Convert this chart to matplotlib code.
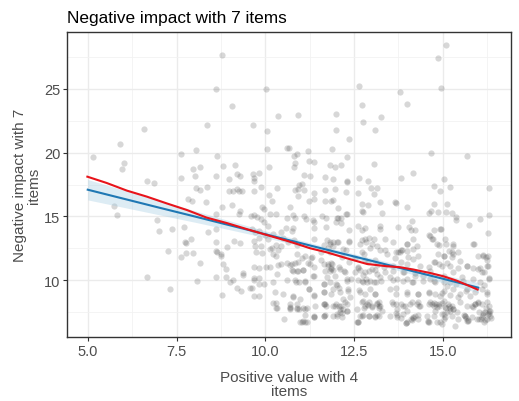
import matplotlib
matplotlib.use("Agg")
import matplotlib.pyplot as plt
from matplotlib.ticker import MultipleLocator

plt.rcParams['font.family'] = ['Liberation Sans', 'DejaVu Sans']

# scatter points (positive value, negative impact)
pos_value = [
    # left / sparse part
    5.16, 5.92, 6.03, 5.97, 6.59, 6.68, 6.88, 5.75, 5.83, 6.96, 7.02, 6.68, 7.27, 7.33, 7.38,
    7.62, 7.64, 7.64, 7.75, 7.77, 7.71, 7.78, 7.83, 7.95, 7.92, 7.97, 8.06, 7.97, 8.03, 8.17,
    8.06, 8.17, 8.09, 8.17, 8.37, 8.37, 8.34, 8.40, 8.60, 8.60, 8.65, 8.62, 8.62, 8.62, 8.62,
    8.65, 8.76, 8.76, 8.62, 8.79, 8.79, 8.82, 8.82, 8.88, 8.90, 8.79, 8.93, 8.99, 8.99, 9.05,
    9.05, 9.02, 9.10, 9.16, 9.19, 9.10, 9.21, 9.13, 9.19, 9.30, 9.27, 9.35, 9.30, 9.27, 9.30,
    9.36, 9.36, 9.33, 9.58, 9.66, 9.66, 9.69, 9.69, 9.69, 9.83, 9.89, 9.61, 9.69, 9.78, 9.89,
    9.64, 9.72, 9.83, 9.67, 9.83, 9.72, 9.89, 9.75, 9.92, 9.67, 9.81, 9.67, 9.69, 9.83, 9.69,
    9.81, 9.64, 9.83, 9.97, 10.03, 10.06, 10.06, 10.10, 10.10, 10.18, 10.12, 9.95, 9.92, 9.95,
    10.09, 10.00, 10.09, 10.23, 10.20, 10.12, 10.23, 10.14, 10.03, 10.23, 10.26, 10.23, 10.31,
    10.37, 10.34, 10.30, 10.35, 10.33, 10.30, 10.36, 10.30,
    # upper right part
    15.09, 14.85, 14.96, 12.65, 12.71, 13.78, 14.00, 12.76, 13.27, 13.10, 11.98, 10.93, 12.00,
    12.37, 10.60, 10.68, 11.20, 11.89, 12.31, 14.68, 15.67, 10.82, 10.88, 11.24, 11.38, 11.81,
    11.95, 12.14, 10.82, 10.85, 13.05, 14.17, 12.65, 13.81, 15.02, 11.10, 11.27, 11.69, 11.92,
    12.29, 12.29, 12.90, 10.96, 11.02, 14.76, 15.21, 16.31, 14.93, 11.10, 10.85, 10.91, 11.69,
    11.95, 12.26, 12.62, 12.99, 13.16, 13.07, 11.36, 10.93, 11.22, 11.38, 11.67, 11.86, 11.92,
    12.71, 12.90, 13.24, 13.64, 13.69, 14.00, 14.76, 15.13, 15.10, 14.85, 14.62, 14.68, 15.27,
    15.36, 16.29, 16.06, 12.06, 12.71, 12.76, 12.26, 12.12, 12.03, 13.30, 10.79, 10.60, 10.85,
    11.10, 11.16, 11.61, 11.72, 11.33, 10.71,
    # dense lower part
    10.57, 10.79, 10.76, 11.36, 11.38, 11.72, 11.98, 12.06, 12.12, 12.29, 12.37, 12.62, 12.71,
    12.82, 13.22, 13.24, 13.75, 14.06, 14.09, 14.23, 14.62, 14.76, 14.93, 14.12, 15.38, 15.75,
    16.26, 14.96, 10.45,
    10.51, 10.45, 10.65, 10.82, 10.88, 11.38, 11.75, 11.81, 11.92, 12.06, 12.37, 12.71, 12.82,
    12.93, 13.07, 13.36, 13.61, 13.81, 13.98, 14.00, 14.26, 14.15, 14.65, 14.71, 14.88, 15.10,
    15.30, 15.27, 15.89, 16.12, 16.26, 11.64, 11.78, 11.58, 12.26, 12.71, 12.79, 12.96, 13.22,
    13.36, 13.75, 13.86, 14.31, 14.85, 15.02, 15.30, 15.98,
    10.62, 10.71, 10.45, 10.85, 11.02, 11.19, 11.30, 11.38, 11.58, 11.78, 11.84, 11.92, 12.09,
    12.17, 12.37, 12.54, 12.62, 12.82, 12.90, 13.10, 13.16, 13.33, 13.61, 13.64, 13.81, 14.00,
    14.15, 14.37, 14.60, 14.79, 14.99, 15.13, 15.44, 15.67, 15.86, 16.06, 16.26, 16.23, 10.76,
    10.93, 11.07, 11.67, 11.86, 11.84, 12.23, 12.54, 12.68, 12.93, 13.10, 13.61, 13.92, 14.23,
    10.60, 10.85, 10.96, 11.13, 11.33, 11.64, 12.00, 12.31, 12.40, 12.62, 12.74, 12.85, 12.96,
    13.13, 13.22, 13.61, 13.69, 13.98, 14.15, 14.45, 14.65, 14.79, 15.02, 15.19, 15.38, 15.58,
    15.84, 16.06, 16.15, 16.29, 11.22, 11.38, 11.64, 11.84, 12.09, 12.34, 12.65, 12.82, 13.10,
    14.00, 14.29, 14.62, 14.99, 15.19, 15.44, 15.64, 16.15, 16.23, 10.79, 10.51,
    10.71, 10.88, 11.05, 11.13, 11.36, 11.07, 11.69, 11.98, 12.12, 12.29, 12.17, 11.92, 11.67,
    12.60, 12.74, 12.90, 13.16, 13.22, 13.16, 13.69, 13.67, 13.81, 13.95, 14.09, 14.31, 14.60,
    14.76, 14.76, 14.90, 15.05, 15.13, 15.27, 15.61, 15.72, 15.86, 16.03, 16.15, 16.29, 16.12,
    16.00, 16.23, 10.52, 10.71, 14.31,
    # bottom strip
    10.29, 10.32, 10.70, 10.89, 10.94, 11.04, 11.13, 11.17, 11.36, 11.66, 11.71, 11.66, 11.96,
    12.07, 12.01, 12.11, 12.18, 12.24, 12.60, 12.73, 12.78, 12.73, 12.86, 12.91, 13.01, 13.14,
    13.20, 13.20, 13.08, 12.91, 13.59, 13.70, 13.70, 13.82, 13.93, 13.98, 14.08, 14.21, 14.27,
    14.32, 14.15, 13.95, 14.13, 14.59, 14.92, 15.02, 14.60, 14.70, 14.81, 14.89, 14.98, 15.04,
    15.09, 15.15, 15.21, 15.26, 15.30, 15.39, 15.62, 15.66, 15.71, 15.83, 15.90, 15.98, 16.03,
    16.07, 16.14, 16.20, 16.22, 16.26, 16.31, 16.35,
    # middle block, second reading
    11.83, 11.92, 12.01, 12.37, 12.67, 12.84, 13.00, 13.16, 13.42, 13.68,
    10.89, 11.12, 11.31, 11.83, 12.20, 10.75, 10.93, 11.26, 10.89, 10.79,
    11.07, 11.36, 11.64, 11.78, 11.87, 11.81, 11.73, 11.97, 12.11, 12.25,
    12.30, 12.62, 12.81, 13.00, 13.16, 13.38, 13.52, 13.70, 10.87, 11.12,
    11.64, 11.83, 12.01, 12.72, 12.86, 13.05, 13.25, 12.75, 11.22, 11.36,
    11.64, 11.92, 12.11, 12.34, 12.39, 12.20, 12.67, 12.95, 13.09, 12.76,
    13.19, 13.52, 13.68, 13.56, 10.79, 10.98, 11.40, 11.64, 11.92, 12.11,
    12.30, 12.58, 12.81, 13.00, 13.19, 10.70, 10.89, 11.12, 11.36, 11.64,
    12.01, 12.15, 12.30, 12.67, 12.91, 13.09, 13.28, 13.52, 13.70, 11.17,
    10.98, 12.58,
    # right block, second reading
    13.98, 14.17, 14.69, 14.83, 15.07, 15.30, 15.16, 15.44, 15.25, 15.86,
    16.14, 16.22, 13.80, 14.03, 14.74, 15.02, 14.88, 15.21, 15.49, 15.67,
    16.00, 16.24, 16.10, 13.89, 14.22, 13.89, 14.13, 14.45, 14.64, 14.74,
    15.02, 15.30, 15.53, 15.11, 15.30, 15.02, 15.67, 16.10, 16.29, 16.24,
    13.98, 14.31, 14.60, 14.78, 14.92, 15.49, 15.77, 15.91, 13.89, 14.13,
    14.36, 14.64, 14.74, 14.83, 15.02, 15.16, 15.30, 15.49, 15.67, 15.91,
    16.10, 16.29, 16.33, 16.19, 13.89, 14.17, 14.31, 14.55, 14.78, 14.97,
    15.21, 15.07, 15.63, 15.67, 15.82, 15.96, 16.10, 16.24, 16.33, 13.98,
    14.59, 14.83, 14.97, 15.44, 15.35,
]
neg_impact = [
    19.64, 20.66, 19.17, 18.70, 21.83, 17.76, 17.60, 15.80, 15.09, 14.70, 13.84, 10.24, 12.27, 9.29, 14.00,
    19.87, 18.00, 11.80, 13.00, 12.90, 14.18, 12.16, 16.35, 16.20, 13.20, 12.10, 20.19, 18.70, 18.17, 18.86,
    17.20, 17.05, 9.92, 11.33, 22.15, 17.29, 16.10, 13.76, 24.97, 18.15, 19.72, 15.17, 14.00, 12.98, 12.27,
    12.19, 12.04, 11.88, 10.24, 27.63, 15.72, 18.93, 11.25, 10.86, 10.24, 8.82, 12.59, 17.92, 16.97, 23.64,
    15.88, 9.84, 10.00, 19.01, 18.30, 16.97, 17.13, 13.06, 9.37, 18.15, 16.97, 16.97, 15.40, 15.17, 12.90,
    10.55, 10.39, 9.14, 9.37, 22.15, 18.30, 18.00, 17.76, 16.97, 18.39, 17.29, 15.02, 15.09, 14.94, 14.78,
    14.00, 13.76, 13.84, 13.06, 13.29, 12.66, 12.66, 12.19, 12.12, 11.02, 10.94, 10.16, 10.00, 10.16, 8.75,
    8.75, 9.37, 9.69, 9.69, 24.97, 21.68, 20.27, 18.86, 16.66, 16.20, 15.17, 15.56, 15.72, 14.54,
    14.23, 13.53, 13.21, 13.60, 12.51, 12.43, 12.04, 11.02, 11.02, 9.84, 9.06, 8.20, 7.80,
    22.85, 17.20, 15.20, 11.20, 10.50, 11.90, 12.40, 12.80,
    28.42, 27.40, 25.05, 25.20, 23.71, 24.73, 23.79, 22.38, 22.77, 21.75, 23.00, 22.93, 21.75,
    21.05, 20.37, 20.37, 20.10, 20.27, 19.64, 19.95, 19.72, 19.72, 19.87, 19.33, 19.25, 19.01,
    18.86, 19.01, 18.86, 19.17, 19.09, 18.40, 17.99, 17.99, 17.91, 18.23, 18.15, 18.07, 17.91,
    17.76, 17.68, 17.77, 17.44, 17.52, 17.37, 17.29, 17.21, 16.97, 17.05, 17.05, 17.13, 17.05,
    17.13, 16.90, 16.82, 17.21, 17.21, 16.74, 16.82, 16.58, 16.19, 16.35, 16.19, 16.19, 16.27,
    15.96, 15.88, 16.11, 16.11, 16.03, 15.72, 15.95, 15.95, 15.33, 15.33, 15.25, 15.41, 15.25,
    14.94, 15.09, 14.78, 15.64, 15.41, 15.33, 15.17, 14.86, 14.86, 15.25, 15.09, 14.86, 14.86,
    15.02, 14.78, 15.02, 14.86, 14.70, 15.72,
    14.07, 14.07, 13.84, 14.54, 14.07, 14.15, 14.54, 14.88, 14.47, 15.17, 13.92, 14.23, 13.92,
    14.07, 14.23, 14.00, 14.15, 14.15, 13.92, 13.92, 13.53, 13.92, 14.00, 14.62, 14.70, 14.31,
    13.68, 14.00, 13.76,
    13.29, 12.66, 12.98, 13.13, 12.74, 13.21, 13.13, 12.82, 12.98, 12.98, 13.06, 13.13, 13.21,
    13.29, 13.21, 13.21, 12.98, 12.35, 12.82, 12.27, 12.66, 13.21, 13.45, 13.21, 12.74, 12.82,
    12.66, 12.19, 12.82, 11.96, 11.88, 12.74, 12.51, 12.19, 12.35, 12.19, 12.04, 12.51, 12.35,
    12.35, 12.19, 12.35, 11.88, 12.04, 11.88, 12.04, 11.88,
    11.33, 11.17, 11.25, 11.33, 11.72, 11.33, 11.72, 11.02, 11.57, 11.25, 10.94, 10.78, 11.02,
    11.80, 11.41, 11.72, 10.94, 11.57, 11.41, 11.57, 11.17, 11.02, 11.10, 11.72, 11.41, 11.25,
    11.65, 11.10, 11.02, 11.41, 11.10, 11.33, 10.94, 11.10, 10.94, 10.94, 11.10, 11.57, 10.78,
    10.70, 10.78, 10.70, 11.33, 10.86, 10.70, 10.63, 10.78, 10.70, 10.78, 10.70, 10.63, 10.55,
    10.00, 10.00, 9.84, 9.84, 10.31, 9.69, 9.69, 9.92, 10.08, 10.00, 9.84, 10.08, 9.92,
    9.84, 10.24, 10.00, 9.37, 10.08, 9.84, 9.92, 10.08, 9.84, 9.84, 9.84, 9.69, 9.92,
    10.08, 9.84, 10.63, 10.16, 9.29, 8.82, 9.06, 8.90, 9.37, 9.14, 9.21, 8.90, 8.90,
    8.90, 8.90, 8.98, 8.98, 8.82, 8.67, 9.14, 9.61, 9.06, 8.75, 8.90,
    8.12, 7.81, 7.81, 7.26, 7.10, 6.79, 8.12, 8.12, 7.96, 7.57, 7.41, 7.18, 7.26,
    6.71, 7.26, 8.04, 8.20, 7.96, 7.26, 8.12, 7.41, 7.02, 6.63, 6.94, 7.26, 6.71,
    7.18, 8.20, 8.12, 7.88, 7.49, 7.96, 7.26, 6.79, 7.88, 6.94, 6.71, 7.41, 7.41,
    8.28, 8.28, 6.94, 7.88, 8.28,
    8.22, 7.80, 7.80, 8.12, 7.75, 6.76, 6.76, 7.80, 7.18, 8.17, 8.01, 7.23, 7.96,
    7.96, 7.23, 7.49, 7.75, 8.33, 6.71, 7.23, 7.80, 8.33, 8.12, 8.27, 7.96, 8.12,
    7.80, 7.23, 7.23, 7.23, 8.12, 7.75, 7.28, 8.12, 7.96, 7.59, 8.12, 7.23, 8.12,
    7.96, 7.07, 6.65, 6.92, 6.71, 6.71, 6.97, 8.17, 8.12, 8.12, 7.96, 8.22, 7.39,
    7.80, 8.12, 7.80, 7.23, 7.75, 7.49, 7.23, 7.02, 6.86, 8.01, 8.17, 8.22, 7.49,
    6.97, 7.28, 6.86, 7.86, 7.33, 7.59, 7.07,
    # middle block, second reading
    12.98, 12.71, 13.03, 13.03, 12.85, 12.98, 12.85, 12.66, 12.06, 12.19,
    12.06, 11.93, 11.80, 12.19, 12.45, 11.28, 11.41, 11.28, 10.76, 10.76,
    10.84, 10.36, 11.28, 11.15, 11.28, 10.76, 10.23, 10.36, 10.89, 10.62,
    10.10, 11.02, 10.62, 10.89, 10.48, 10.62, 10.23, 10.10, 9.89, 9.97,
    9.71, 9.84, 9.63, 9.97, 9.84, 9.89, 9.97, 10.42, 9.32, 8.80,
    9.06, 9.32, 9.06, 9.32, 8.67, 8.54, 9.06, 9.32, 8.93, 8.40,
    8.27, 9.32, 8.93, 8.27, 8.67, 8.54, 8.01, 8.14, 8.01, 7.75,
    8.14, 7.75, 8.01, 7.88, 8.01, 7.75, 7.75, 7.75, 7.10, 7.23,
    7.36, 7.10, 7.62, 7.23, 7.23, 7.10, 7.62, 7.23, 7.10, 6.76,
    6.76, 6.71,
    # right block, second reading
    12.85, 12.45, 13.24, 12.85, 13.24, 12.85, 12.32, 12.19, 11.80, 12.85,
    11.93, 11.80, 12.19, 11.80, 11.41, 11.93, 11.28, 11.15, 11.54, 11.15,
    10.89, 11.15, 10.62, 10.62, 10.36, 9.97, 9.84, 10.36, 10.76, 9.97,
    10.36, 10.62, 10.23, 9.58, 9.32, 9.19, 9.32, 9.32, 10.10, 8.93,
    9.06, 8.93, 9.06, 8.93, 8.80, 8.93, 8.80, 9.06, 8.01, 8.27,
    8.01, 8.27, 8.01, 7.88, 8.40, 8.01, 7.75, 8.27, 8.01, 8.14,
    8.14, 8.01, 7.62, 7.49, 7.36, 7.10, 6.97, 7.23, 7.62, 7.36,
    7.62, 7.10, 7.23, 6.84, 7.10, 6.97, 7.10, 6.97, 7.23, 6.71,
    6.84, 6.71, 6.57, 6.97, 6.44,
]

# linear fit with its confidence band (blue)
lm_x = [5, 6, 7, 8, 9, 10, 11, 12, 13, 14, 15, 16]
lm_y = [17.10, 16.40, 15.70, 15.01, 14.31, 13.61, 12.91, 12.21, 11.52, 10.82, 10.12, 9.42]
lm_lo = [16.30, 15.72, 15.14, 14.56, 13.96, 13.34, 12.69, 12.01, 11.31, 10.57, 9.80, 9.02]
lm_hi = [17.90, 17.08, 16.26, 15.46, 14.66, 13.88, 13.13, 12.41, 11.73, 11.07, 10.44, 9.82]

# loess curve (red)
lo_x = [4.99, 5.53, 6.10, 6.66, 7.22, 7.79, 8.35, 8.91, 9.48, 10.04, 10.60, 10.89, 11.26,
        11.73, 12.30, 12.86, 13.42, 13.80, 14.17, 14.64, 15.02, 15.39, 15.68, 15.98]
lo_y = [18.12, 17.63, 17.03, 16.56, 16.03, 15.51, 14.91, 14.49, 14.01, 13.55, 13.10, 12.85, 12.51,
        12.19, 11.72, 11.28, 11.10, 11.02, 10.84, 10.57, 10.31, 9.97, 9.63, 9.27]

fig = plt.figure(figsize=(5.19, 4.02), dpi=100)
ax = fig.add_axes([0.1297, 0.1585, 0.8549, 0.7587])

ax.scatter(pos_value, neg_impact, s=20, color='#3a3a3a', alpha=0.2, linewidths=0, zorder=2)
ax.fill_between(lm_x, lm_lo, lm_hi, color='#9ECAE1', alpha=0.35, linewidth=0, zorder=3)
ax.plot(lm_x, lm_y, color='#1F78B4', linewidth=1.5, zorder=4)
ax.plot(lo_x, lo_y, color='#E8141B', linewidth=1.5, zorder=5)

ax.set_xlim(4.425, 16.92)
ax.set_ylim(5.53, 29.44)
ax.xaxis.set_minor_locator(MultipleLocator(1.25))
ax.yaxis.set_major_locator(MultipleLocator(5))
ax.yaxis.set_minor_locator(MultipleLocator(2.5))
ax.set_xticks([5, 7.5, 10, 12.5, 15])
ax.set_xticklabels(['5.0', '7.5', '10.0', '12.5', '15.0'])

ax.grid(which='major', color='#EBEBEB', linewidth=1.0, zorder=0)
ax.grid(which='minor', color='#F2F2F2', linewidth=0.6, zorder=0)
ax.set_axisbelow(True)
ax.tick_params(which='major', length=3, width=0.8, color='#333333', labelcolor='#4D4D4D',
               labelsize=10.5, pad=2)
ax.tick_params(which='minor', length=0)
for s in ax.spines.values():
    s.set_color('#333333')
    s.set_linewidth(1.0)

fig.text(0.1297, 0.955, 'Negative impact with 7 items', fontsize=12.4, color='black',
         ha='left', va='center')
fig.text(0.557, 0.042, 'Positive value with 4\nitems', fontsize=11, color='#4D4D4D',
         ha='center', va='center', linespacing=0.95)
fig.text(0.052, 0.538, 'Negative impact with 7\nitems', fontsize=11, color='#4D4D4D',
         ha='center', va='center', rotation=90, linespacing=0.95)

fig.savefig('out.png', dpi=100)
